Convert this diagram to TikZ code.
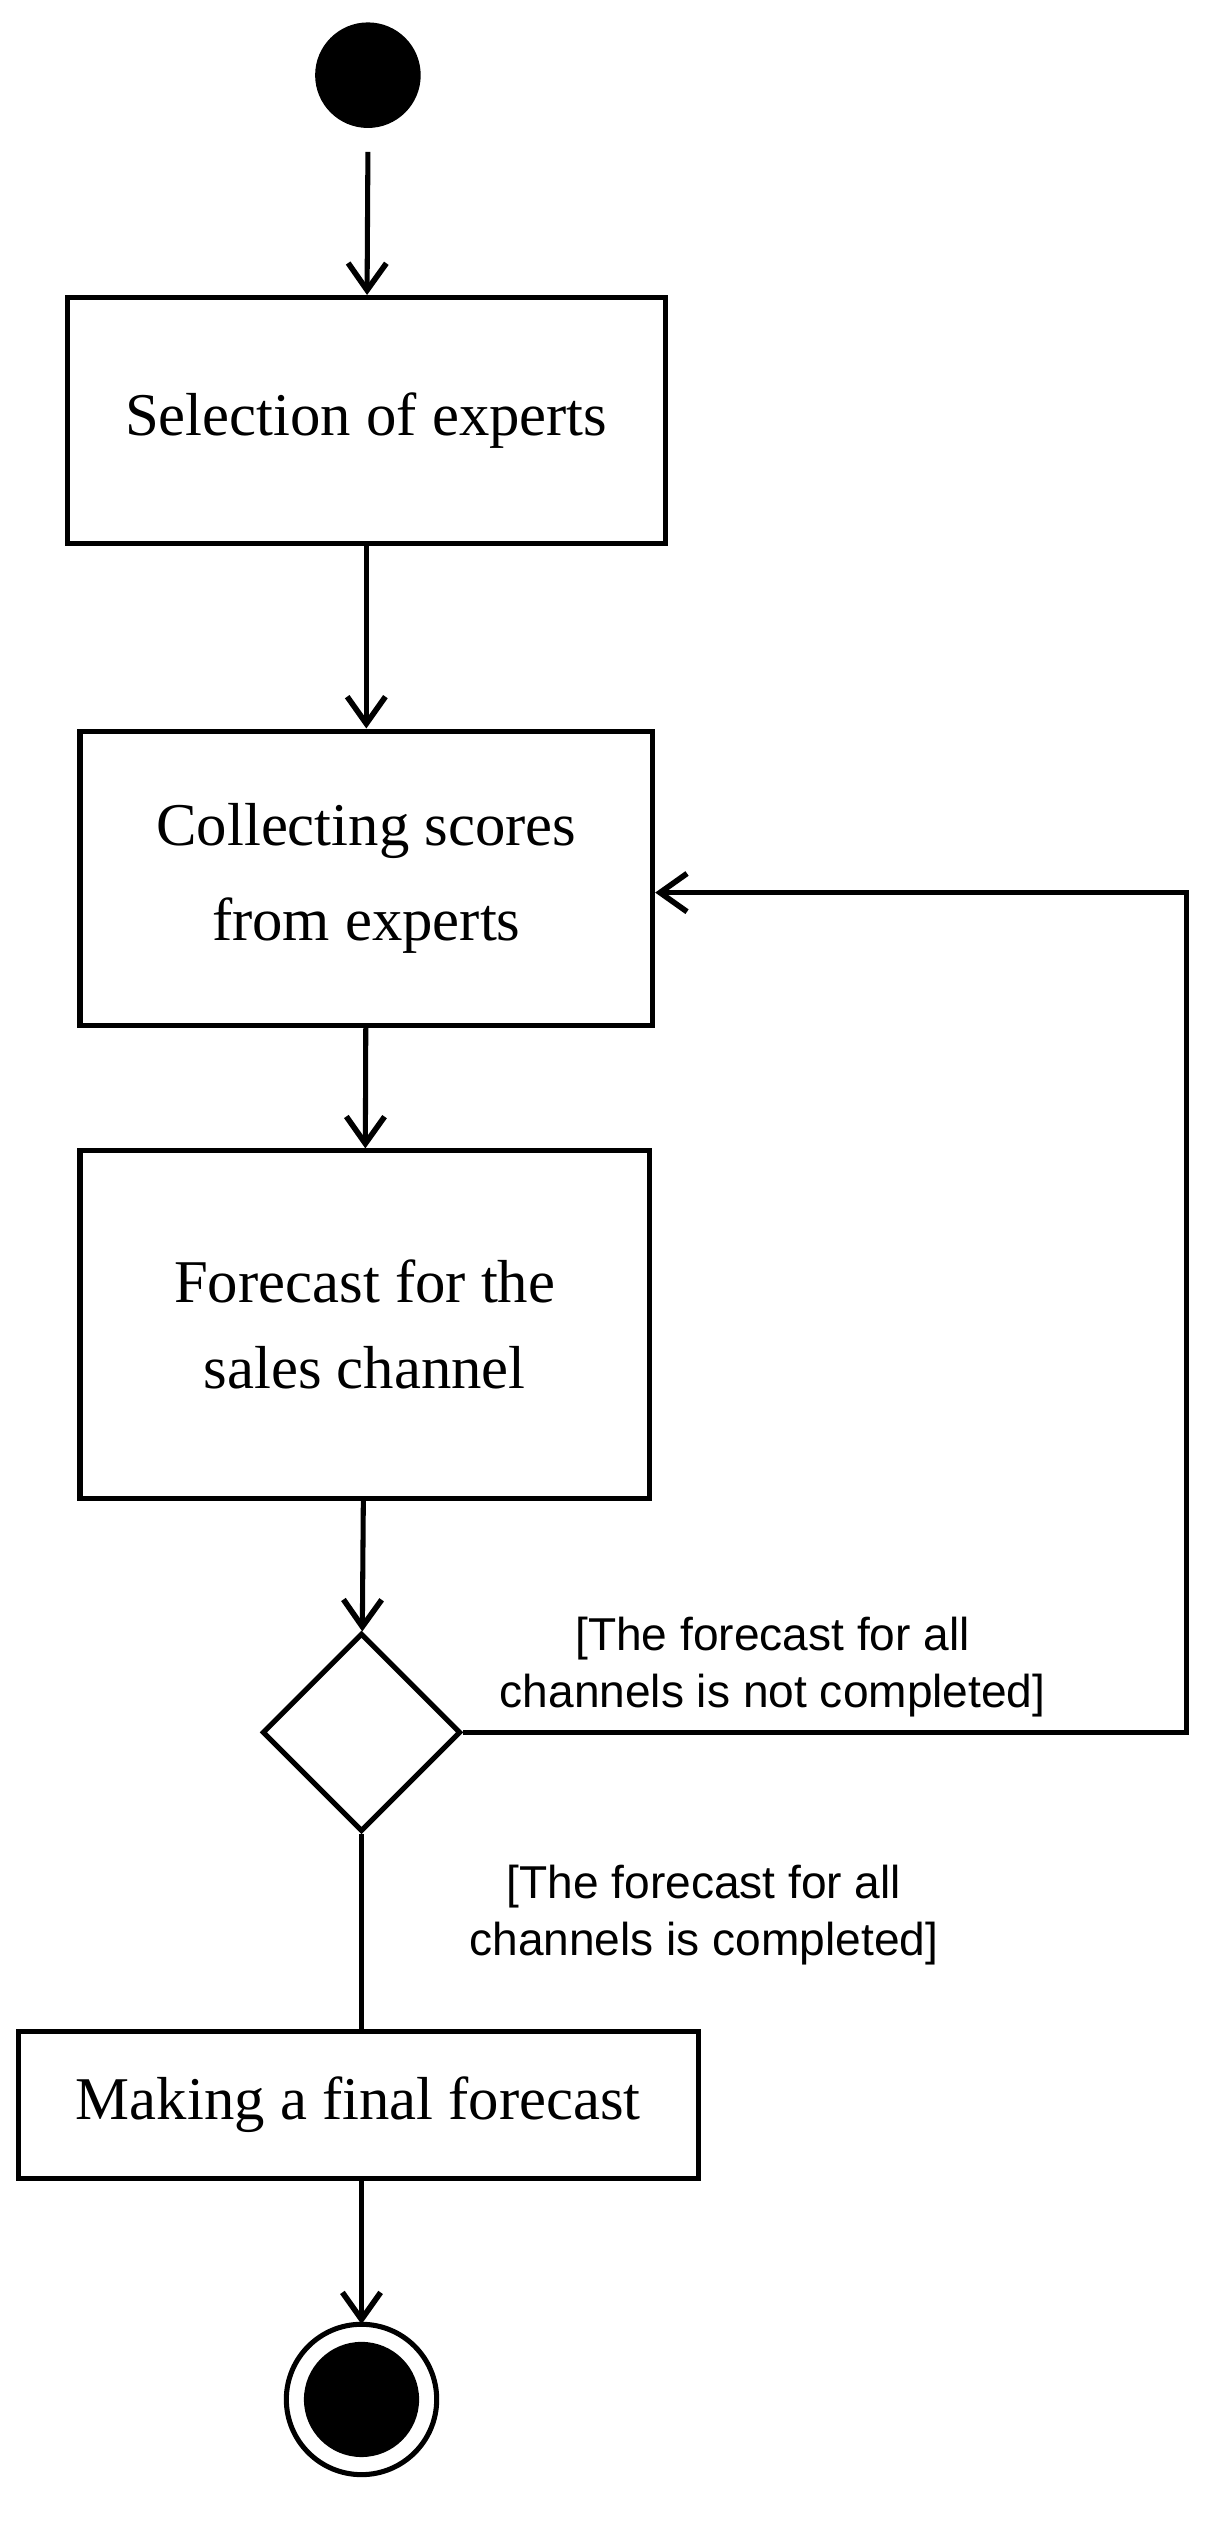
\documentclass[tikz,border=0pt]{standalone}
\usepackage{fontspec}
\setmainfont{Liberation Serif}
\setsansfont{Liberation Sans}
\usetikzlibrary{shapes.geometric,arrows.meta}
\begin{document}
\begin{tikzpicture}[x=0.05cm,y=-0.05cm,line width=4.5pt,
  box/.style={draw,rectangle,inner sep=0pt,font=\fontsize{54}{84}\selectfont,align=center},
  lab/.style={font=\sffamily\fontsize{41}{51}\selectfont,align=center},
  arr/.style={-{Straight Barb[length=24pt,width=34pt,line width=5pt]}}]
\useasboundingbox (0,0) rectangle (770,1591);
\fill (230,47) circle[radius=33];
\coordinate (s) at (230,95);
\node[box,minimum width=374*0.05cm,minimum height=154*0.05cm] (b1) at (229,263) {Selection of experts};
\node[box,minimum width=358*0.05cm,minimum height=184*0.05cm] (b2) at (229,549) {Collecting scores\\from experts};
\node[box,minimum width=356*0.05cm,minimum height=217*0.05cm] (b3) at (228,828) {Forecast for the\\[-8pt]sales channel};
\node[draw,diamond,minimum width=124*0.05cm,minimum height=124*0.05cm,inner sep=0pt] (d) at (226,1083) {};
\node[box,minimum width=425*0.05cm,minimum height=92*0.05cm] (b4) at (224,1316) {Making a final forecast};
\draw (226,1500) circle[radius=47];
\fill (226,1500) circle[radius=36];
\coordinate (e) at (226,1453);
\draw[arr] (s) -- (b1);
\draw[arr] (b1) -- (b2);
\draw[arr] (b2) -- (b3);
\draw[arr] (b3) -- (d);
\draw (d.south) -- (b4.north -| d.south);
\draw[arr] (b4.south -| e) -- (e);
\draw[arr] (d.east) -- (742,1083) -- (742,558) -- (b2.east |- 0,558);
\node[lab] (l1) at (483,1042) {[The forecast for all\\channels is not completed]};
\node[lab] (l2) at (440,1197) {[The forecast for all\\channels is completed]};
\end{tikzpicture}
\end{document}
